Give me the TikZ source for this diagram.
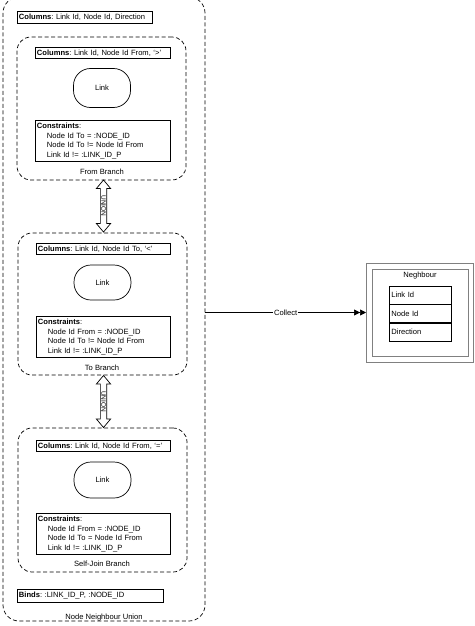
\documentclass[tikz,border=0pt]{standalone}
\usepackage{fontspec}
\setmainfont{Liberation Sans}
\frenchspacing
\usetikzlibrary{shapes.arrows,arrows.meta}

\tikzset{
	lbl/.style={font=\fontsize{7.6}{9}\selectfont, inner sep=0pt},
	branchbox/.style={draw, dashed, dash pattern=on 4pt off 2.5pt, rounded corners=14pt, line width=0.7pt, minimum width=169pt},
	colbox/.style={draw, line width=0.8pt, anchor=north west, align=left, inner sep=1.5pt, font=\fontsize{7.6}{9}\selectfont},
	tablebox/.style={draw, line width=0.7pt, anchor=north west, minimum height=17.7pt, text width=58pt, align=left, inner sep=2pt, font=\fontsize{7.6}{9}\selectfont},
	linkbox/.style={draw, line width=0.7pt, rounded corners=17pt, minimum width=57pt, minimum height=37pt, font=\fontsize{7.6}{9}\selectfont},
	unionarrow/.style={double arrow, draw, line width=0.7pt, rotate=-90, minimum width=10pt, minimum height=52pt, double arrow head extend=4pt, double arrow tip angle=80, inner sep=0.5pt, font=\fontsize{6.5}{7}\selectfont}
}

\begin{document}
\begin{tikzpicture}[x=1pt, y=-1pt]
	\useasboundingbox (0, 0) rectangle (474, 626);

	% outer union box
	\node[branchbox, minimum width=202pt, minimum height=624pt, rounded corners=16pt] (outer) at (104, 309) {};
	\node[colbox, text width=132pt, minimum height=12pt] (topcols) at (17, 11) {\mbox{\textbf{Columns}: Link Id, Node Id, Direction}};

	% from branch
	\node[branchbox, minimum height=143pt] (from) at (101.5, 108.5) {};
	\node[colbox, text width=132pt, minimum height=11pt] (fromcols) at (35, 47) {\mbox{\textbf{Columns}: Link Id, Node Id From, `>'}};
	\node[linkbox, minimum height=39pt] (fromlink) at (102, 88) {Link};
	\node[colbox, text width=132pt, minimum height=41pt, font=\fontsize{7.6}{9.6}\selectfont] (fromcons) at (35, 120) {\textbf{Constraints}:\\
		\hspace*{10pt}Node Id To = :NODE\_ID\\
		\hspace*{10pt}Node Id To != Node Id From\\
		\hspace*{10pt}Link Id != :LINK\_ID\_P};
	\node[lbl] (fromname) at (102, 172) {From Branch};

	% to branch
	\node[branchbox, minimum height=142pt] (to) at (102.5, 304) {};
	\node[colbox, text width=131pt, minimum height=11pt] (tocols) at (36, 243) {\mbox{\textbf{Columns}: Link Id, Node Id To, `<'}};
	\node[linkbox, minimum height=35pt] (tolink) at (102.5, 282.5) {Link};
	\node[colbox, text width=131pt, minimum height=41pt, font=\fontsize{7.6}{9.6}\selectfont] (tocons) at (36, 316) {\textbf{Constraints}:\\
		\hspace*{10pt}Node Id From = :NODE\_ID\\
		\hspace*{10pt}Node Id To != Node Id From\\
		\hspace*{10pt}Link Id != :LINK\_ID\_P};
	\node[lbl] (toname) at (102, 368) {To Branch};

	% self-join branch
	\node[branchbox, minimum height=144pt] (self) at (102.5, 500) {};
	\node[colbox, text width=131pt, minimum height=11pt] (selfcols) at (36, 440) {\mbox{\textbf{Columns}: Link Id, Node Id From, `='}};
	\node[linkbox, minimum height=36pt] (selflink) at (102.5, 480) {Link};
	\node[colbox, text width=131pt, minimum height=41pt, font=\fontsize{7.6}{9.6}\selectfont] (selfcons) at (36, 513) {\textbf{Constraints}:\\
		\hspace*{10pt}Node Id From = :NODE\_ID\\
		\hspace*{10pt}Node Id To = Node Id From\\
		\hspace*{10pt}Link Id != :LINK\_ID\_P};
	\node[lbl] (selfname) at (102, 564) {Self-Join Branch};

	\node[colbox, text width=143pt, minimum height=13pt] (binds) at (17, 589) {\mbox{\textbf{Binds}: :LINK\_ID\_P, :NODE\_ID}};
	\node[lbl] (outername) at (104, 618) {Node Neighbour Union};

	% union arrows
	\node[unionarrow] (union1) at (103.5, 206) {UNION};
	\node[unionarrow] (union2) at (103.5, 401.5) {UNION};

	% neighbour result
	\node[draw, gray, line width=1pt, minimum width=107pt, minimum height=99pt] (nbr) at (420, 312.5) {};
	\node[draw, gray, line width=1pt, minimum width=96pt, minimum height=87pt] (nbrin) at (420, 312.5) {};
	\node[lbl] (nbrname) at (420, 276) {Neghbour};
	\node[tablebox] (linkid) at (389, 286) {Link Id};
	\node[tablebox] (nodeid) at (linkid.south west) {Node Id};
	\node[tablebox] (dir) at (nodeid.south west) {Direction};

	\draw[line width=0.7pt, -{Triangle[length=6pt,width=6pt] Triangle[length=6pt,width=6pt]}] (outer.east |- nbr.west) -- (nbr.west) node[pos=.5, fill=white, lbl, inner xsep=1pt] (collect) {Collect};
\end{tikzpicture}
\end{document}
